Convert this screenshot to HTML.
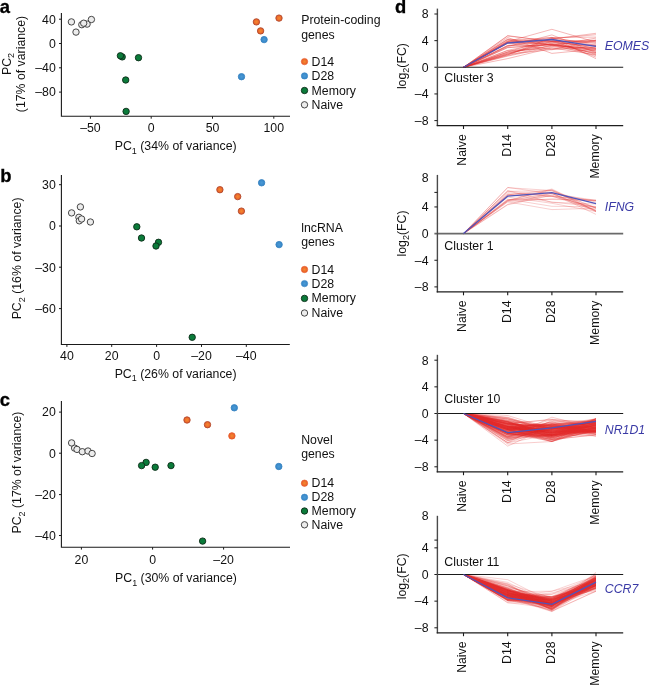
<!DOCTYPE html>
<html><head><meta charset="utf-8"><style>
html,body{margin:0;padding:0;background:#fff;}
body{width:649px;height:685px;overflow:hidden;}
svg{display:block;will-change:transform;}
text{font-family:"Liberation Sans", sans-serif;}
</style></head><body>
<svg width="649" height="685" viewBox="0 0 649 685" font-family='"Liberation Sans", sans-serif'><defs><radialGradient id="go"><stop offset="0" stop-color="#f38a30"/><stop offset="1" stop-color="#ea5c28"/></radialGradient><radialGradient id="gb"><stop offset="0" stop-color="#4b9ad5"/><stop offset="1" stop-color="#3586c8"/></radialGradient></defs>
<rect width="649" height="685" fill="#ffffff"/>
<path d="M61.4,13.1 V116.3 H290.0" fill="none" stroke="#1a1a1a" stroke-width="1.1"/>
<line x1="59.00" y1="19.20" x2="61.40" y2="19.20" stroke="#1a1a1a" stroke-width="1" />
<text x="55.80" y="23.50" font-size="12.3" text-anchor="end" fill="#111" >40</text>
<line x1="59.00" y1="43.50" x2="61.40" y2="43.50" stroke="#1a1a1a" stroke-width="1" />
<text x="55.80" y="47.80" font-size="12.3" text-anchor="end" fill="#111" >0</text>
<line x1="59.00" y1="67.80" x2="61.40" y2="67.80" stroke="#1a1a1a" stroke-width="1" />
<text x="55.80" y="72.10" font-size="12.3" text-anchor="end" fill="#111" >–40</text>
<line x1="59.00" y1="92.10" x2="61.40" y2="92.10" stroke="#1a1a1a" stroke-width="1" />
<text x="55.80" y="96.40" font-size="12.3" text-anchor="end" fill="#111" >–80</text>
<line x1="90.40" y1="116.30" x2="90.40" y2="118.70" stroke="#1a1a1a" stroke-width="1" />
<text x="90.40" y="132.40" font-size="12.3" text-anchor="middle" fill="#111" >–50</text>
<line x1="151.20" y1="116.30" x2="151.20" y2="118.70" stroke="#1a1a1a" stroke-width="1" />
<text x="151.20" y="132.40" font-size="12.3" text-anchor="middle" fill="#111" >0</text>
<line x1="212.50" y1="116.30" x2="212.50" y2="118.70" stroke="#1a1a1a" stroke-width="1" />
<text x="212.50" y="132.40" font-size="12.3" text-anchor="middle" fill="#111" >50</text>
<line x1="273.80" y1="116.30" x2="273.80" y2="118.70" stroke="#1a1a1a" stroke-width="1" />
<text x="273.80" y="132.40" font-size="12.3" text-anchor="middle" fill="#111" >100</text>
<text x="175.7" y="150.1" font-size="12.3" text-anchor="middle" fill="#111">PC<tspan font-size="9" dy="3.4">1</tspan><tspan dy="-3.4"> (34% of variance)</tspan></text>
<circle cx="71.40" cy="21.90" r="3.2" fill="#ececec" stroke="#333333" stroke-width="0.9"/>
<circle cx="76.00" cy="32.10" r="3.2" fill="#ececec" stroke="#333333" stroke-width="0.9"/>
<circle cx="81.80" cy="24.70" r="3.2" fill="#ececec" stroke="#333333" stroke-width="0.9"/>
<circle cx="87.10" cy="24.10" r="3.2" fill="#ececec" stroke="#333333" stroke-width="0.9"/>
<circle cx="83.70" cy="23.20" r="3.2" fill="#ececec" stroke="#333333" stroke-width="0.9"/>
<circle cx="91.40" cy="19.50" r="3.2" fill="#ececec" stroke="#333333" stroke-width="0.9"/>
<circle cx="122.20" cy="56.90" r="3.2" fill="#0b7b3a" stroke="#0d2b18" stroke-width="0.9"/>
<circle cx="120.40" cy="55.80" r="3.2" fill="#0b7b3a" stroke="#0d2b18" stroke-width="0.9"/>
<circle cx="138.50" cy="57.70" r="3.2" fill="#0b7b3a" stroke="#0d2b18" stroke-width="0.9"/>
<circle cx="125.70" cy="80.00" r="3.2" fill="#0b7b3a" stroke="#0d2b18" stroke-width="0.9"/>
<circle cx="126.10" cy="111.40" r="3.2" fill="#0b7b3a" stroke="#0d2b18" stroke-width="0.9"/>
<circle cx="256.40" cy="21.90" r="3.2" fill="url(#go)" stroke="#b04a2e" stroke-width="0.9"/>
<circle cx="279.00" cy="18.10" r="3.2" fill="url(#go)" stroke="#b04a2e" stroke-width="0.9"/>
<circle cx="260.60" cy="30.90" r="3.2" fill="url(#go)" stroke="#b04a2e" stroke-width="0.9"/>
<circle cx="264.10" cy="39.60" r="3.2" fill="url(#gb)" stroke="#3a84c2" stroke-width="0.9"/>
<circle cx="241.50" cy="76.70" r="3.2" fill="url(#gb)" stroke="#3a84c2" stroke-width="0.9"/>
<text x="301.20" y="24.00" font-size="12.3" text-anchor="start" fill="#111" >Protein-coding</text>
<text x="301.20" y="38.50" font-size="12.3" text-anchor="start" fill="#111" >genes</text>
<circle cx="304.50" cy="61.60" r="3.2" fill="url(#go)" stroke="#e65a2a" stroke-width="0.6"/>
<text x="311.60" y="65.60" font-size="12.3" text-anchor="start" fill="#111" >D14</text>
<circle cx="304.50" cy="75.90" r="3.2" fill="url(#gb)" stroke="#3a84c2" stroke-width="0.6"/>
<text x="311.60" y="79.90" font-size="12.3" text-anchor="start" fill="#111" >D28</text>
<circle cx="304.50" cy="90.50" r="3.2" fill="#0b7b3a" stroke="#0d2b18" stroke-width="0.9"/>
<text x="311.60" y="94.50" font-size="12.3" text-anchor="start" fill="#111" >Memory</text>
<circle cx="304.50" cy="104.80" r="3.2" fill="#ececec" stroke="#333333" stroke-width="0.9"/>
<text x="311.60" y="108.80" font-size="12.3" text-anchor="start" fill="#111" >Naive</text>
<path d="M61.4,174.9 V344.5 H289.8" fill="none" stroke="#1a1a1a" stroke-width="1.1"/>
<line x1="59.00" y1="184.70" x2="61.40" y2="184.70" stroke="#1a1a1a" stroke-width="1" />
<text x="55.80" y="189.00" font-size="12.3" text-anchor="end" fill="#111" >30</text>
<line x1="59.00" y1="226.00" x2="61.40" y2="226.00" stroke="#1a1a1a" stroke-width="1" />
<text x="55.80" y="230.30" font-size="12.3" text-anchor="end" fill="#111" >0</text>
<line x1="59.00" y1="267.20" x2="61.40" y2="267.20" stroke="#1a1a1a" stroke-width="1" />
<text x="55.80" y="271.50" font-size="12.3" text-anchor="end" fill="#111" >–30</text>
<line x1="59.00" y1="308.60" x2="61.40" y2="308.60" stroke="#1a1a1a" stroke-width="1" />
<text x="55.80" y="312.90" font-size="12.3" text-anchor="end" fill="#111" >–60</text>
<line x1="66.90" y1="344.50" x2="66.90" y2="346.90" stroke="#1a1a1a" stroke-width="1" />
<text x="66.90" y="359.90" font-size="12.3" text-anchor="middle" fill="#111" >40</text>
<line x1="111.70" y1="344.50" x2="111.70" y2="346.90" stroke="#1a1a1a" stroke-width="1" />
<text x="111.70" y="359.90" font-size="12.3" text-anchor="middle" fill="#111" >20</text>
<line x1="156.60" y1="344.50" x2="156.60" y2="346.90" stroke="#1a1a1a" stroke-width="1" />
<text x="156.60" y="359.90" font-size="12.3" text-anchor="middle" fill="#111" >0</text>
<line x1="201.50" y1="344.50" x2="201.50" y2="346.90" stroke="#1a1a1a" stroke-width="1" />
<text x="201.50" y="359.90" font-size="12.3" text-anchor="middle" fill="#111" >–20</text>
<line x1="246.30" y1="344.50" x2="246.30" y2="346.90" stroke="#1a1a1a" stroke-width="1" />
<text x="246.30" y="359.90" font-size="12.3" text-anchor="middle" fill="#111" >–40</text>
<text x="175.6" y="377.5" font-size="12.3" text-anchor="middle" fill="#111">PC<tspan font-size="9" dy="3.4">1</tspan><tspan dy="-3.4"> (26% of variance)</tspan></text>
<circle cx="71.60" cy="212.90" r="3.2" fill="#ececec" stroke="#333333" stroke-width="0.9"/>
<circle cx="80.40" cy="206.90" r="3.2" fill="#ececec" stroke="#333333" stroke-width="0.9"/>
<circle cx="78.90" cy="217.30" r="3.2" fill="#ececec" stroke="#333333" stroke-width="0.9"/>
<circle cx="79.30" cy="220.80" r="3.2" fill="#ececec" stroke="#333333" stroke-width="0.9"/>
<circle cx="81.60" cy="219.00" r="3.2" fill="#ececec" stroke="#333333" stroke-width="0.9"/>
<circle cx="90.40" cy="222.00" r="3.2" fill="#ececec" stroke="#333333" stroke-width="0.9"/>
<circle cx="136.80" cy="226.80" r="3.2" fill="#0b7b3a" stroke="#0d2b18" stroke-width="0.9"/>
<circle cx="141.50" cy="238.00" r="3.2" fill="#0b7b3a" stroke="#0d2b18" stroke-width="0.9"/>
<circle cx="158.50" cy="242.30" r="3.2" fill="#0b7b3a" stroke="#0d2b18" stroke-width="0.9"/>
<circle cx="156.00" cy="246.00" r="3.2" fill="#0b7b3a" stroke="#0d2b18" stroke-width="0.9"/>
<circle cx="192.20" cy="337.30" r="3.2" fill="#0b7b3a" stroke="#0d2b18" stroke-width="0.9"/>
<circle cx="219.90" cy="189.70" r="3.2" fill="url(#go)" stroke="#b04a2e" stroke-width="0.9"/>
<circle cx="237.70" cy="196.60" r="3.2" fill="url(#go)" stroke="#b04a2e" stroke-width="0.9"/>
<circle cx="241.40" cy="211.10" r="3.2" fill="url(#go)" stroke="#b04a2e" stroke-width="0.9"/>
<circle cx="261.60" cy="182.80" r="3.2" fill="url(#gb)" stroke="#3a84c2" stroke-width="0.9"/>
<circle cx="279.10" cy="244.60" r="3.2" fill="url(#gb)" stroke="#3a84c2" stroke-width="0.9"/>
<text x="301.20" y="231.80" font-size="12.3" text-anchor="start" fill="#111" >lncRNA</text>
<text x="301.20" y="246.30" font-size="12.3" text-anchor="start" fill="#111" >genes</text>
<circle cx="304.50" cy="269.50" r="3.2" fill="url(#go)" stroke="#e65a2a" stroke-width="0.6"/>
<text x="311.60" y="273.50" font-size="12.3" text-anchor="start" fill="#111" >D14</text>
<circle cx="304.50" cy="283.60" r="3.2" fill="url(#gb)" stroke="#3a84c2" stroke-width="0.6"/>
<text x="311.60" y="287.60" font-size="12.3" text-anchor="start" fill="#111" >D28</text>
<circle cx="304.50" cy="298.40" r="3.2" fill="#0b7b3a" stroke="#0d2b18" stroke-width="0.9"/>
<text x="311.60" y="302.40" font-size="12.3" text-anchor="start" fill="#111" >Memory</text>
<circle cx="304.50" cy="313.00" r="3.2" fill="#ececec" stroke="#333333" stroke-width="0.9"/>
<text x="311.60" y="317.00" font-size="12.3" text-anchor="start" fill="#111" >Naive</text>
<path d="M61.4,401.0 V547.2 H290.0" fill="none" stroke="#1a1a1a" stroke-width="1.1"/>
<line x1="59.00" y1="412.10" x2="61.40" y2="412.10" stroke="#1a1a1a" stroke-width="1" />
<text x="55.80" y="416.40" font-size="12.3" text-anchor="end" fill="#111" >20</text>
<line x1="59.00" y1="453.20" x2="61.40" y2="453.20" stroke="#1a1a1a" stroke-width="1" />
<text x="55.80" y="457.50" font-size="12.3" text-anchor="end" fill="#111" >0</text>
<line x1="59.00" y1="494.60" x2="61.40" y2="494.60" stroke="#1a1a1a" stroke-width="1" />
<text x="55.80" y="498.90" font-size="12.3" text-anchor="end" fill="#111" >–20</text>
<line x1="59.00" y1="535.50" x2="61.40" y2="535.50" stroke="#1a1a1a" stroke-width="1" />
<text x="55.80" y="539.80" font-size="12.3" text-anchor="end" fill="#111" >–40</text>
<line x1="81.40" y1="547.20" x2="81.40" y2="549.60" stroke="#1a1a1a" stroke-width="1" />
<text x="81.40" y="564.10" font-size="12.3" text-anchor="middle" fill="#111" >20</text>
<line x1="152.60" y1="547.20" x2="152.60" y2="549.60" stroke="#1a1a1a" stroke-width="1" />
<text x="152.60" y="564.10" font-size="12.3" text-anchor="middle" fill="#111" >0</text>
<line x1="223.60" y1="547.20" x2="223.60" y2="549.60" stroke="#1a1a1a" stroke-width="1" />
<text x="223.60" y="564.10" font-size="12.3" text-anchor="middle" fill="#111" >–20</text>
<text x="176.0" y="582.1" font-size="12.3" text-anchor="middle" fill="#111">PC<tspan font-size="9" dy="3.4">1</tspan><tspan dy="-3.4"> (30% of variance)</tspan></text>
<circle cx="74.60" cy="448.10" r="3.2" fill="#ececec" stroke="#333333" stroke-width="0.9"/>
<circle cx="77.00" cy="449.40" r="3.2" fill="#ececec" stroke="#333333" stroke-width="0.9"/>
<circle cx="71.60" cy="442.90" r="3.2" fill="#ececec" stroke="#333333" stroke-width="0.9"/>
<circle cx="82.30" cy="451.70" r="3.2" fill="#ececec" stroke="#333333" stroke-width="0.9"/>
<circle cx="88.00" cy="451.00" r="3.2" fill="#ececec" stroke="#333333" stroke-width="0.9"/>
<circle cx="92.10" cy="453.50" r="3.2" fill="#ececec" stroke="#333333" stroke-width="0.9"/>
<circle cx="146.10" cy="462.40" r="3.2" fill="#0b7b3a" stroke="#0d2b18" stroke-width="0.9"/>
<circle cx="141.60" cy="465.60" r="3.2" fill="#0b7b3a" stroke="#0d2b18" stroke-width="0.9"/>
<circle cx="155.20" cy="467.20" r="3.2" fill="#0b7b3a" stroke="#0d2b18" stroke-width="0.9"/>
<circle cx="171.00" cy="465.60" r="3.2" fill="#0b7b3a" stroke="#0d2b18" stroke-width="0.9"/>
<circle cx="202.60" cy="541.10" r="3.2" fill="#0b7b3a" stroke="#0d2b18" stroke-width="0.9"/>
<circle cx="187.00" cy="420.00" r="3.2" fill="url(#go)" stroke="#b04a2e" stroke-width="0.9"/>
<circle cx="207.50" cy="424.70" r="3.2" fill="url(#go)" stroke="#b04a2e" stroke-width="0.9"/>
<circle cx="231.90" cy="435.90" r="3.2" fill="url(#go)" stroke="#e65a2a" stroke-width="0.9"/>
<circle cx="234.30" cy="407.80" r="3.2" fill="url(#gb)" stroke="#3a84c2" stroke-width="0.9"/>
<circle cx="278.80" cy="466.50" r="3.2" fill="url(#gb)" stroke="#3a84c2" stroke-width="0.9"/>
<text x="301.20" y="443.70" font-size="12.3" text-anchor="start" fill="#111" >Novel</text>
<text x="301.20" y="458.20" font-size="12.3" text-anchor="start" fill="#111" >genes</text>
<circle cx="304.50" cy="483.20" r="3.2" fill="url(#go)" stroke="#e65a2a" stroke-width="0.6"/>
<text x="311.60" y="487.20" font-size="12.3" text-anchor="start" fill="#111" >D14</text>
<circle cx="304.50" cy="497.30" r="3.2" fill="url(#gb)" stroke="#3a84c2" stroke-width="0.6"/>
<text x="311.60" y="501.30" font-size="12.3" text-anchor="start" fill="#111" >D28</text>
<circle cx="304.50" cy="511.00" r="3.2" fill="#0b7b3a" stroke="#0d2b18" stroke-width="0.9"/>
<text x="311.60" y="515.00" font-size="12.3" text-anchor="start" fill="#111" >Memory</text>
<circle cx="304.50" cy="524.80" r="3.2" fill="#ececec" stroke="#333333" stroke-width="0.9"/>
<text x="311.60" y="528.80" font-size="12.3" text-anchor="start" fill="#111" >Naive</text>
<text transform="translate(11.0,64.0) rotate(-90)" font-size="12.3" text-anchor="middle" fill="#111">PC<tspan font-size="9" dy="3.4">2</tspan></text>
<text transform="translate(24.6,64.0) rotate(-90)" font-size="12.3" text-anchor="middle" fill="#111">(17% of variance)</text>
<text transform="translate(21.4,258.4) rotate(-90)" font-size="12.3" text-anchor="middle" fill="#111">PC<tspan font-size="9" dy="3.4">2</tspan><tspan dy="-3.4"> (16% of variance)</tspan></text>
<text transform="translate(21.4,472.6) rotate(-90)" font-size="12.3" text-anchor="middle" fill="#111">PC<tspan font-size="9" dy="3.4">2</tspan><tspan dy="-3.4"> (17% of variance)</tspan></text>
<g fill="none" stroke="#e02a2a" stroke-width="0.8" stroke-opacity="0.42"><polyline points="463.5,67.3 507.7,40.8 551.9,37.4 596.0,45.3"/><polyline points="463.5,67.3 507.7,53.4 551.9,43.4 596.0,53.7"/><polyline points="463.5,67.3 507.7,42.5 551.9,49.7 596.0,40.2"/><polyline points="463.5,67.3 507.7,41.6 551.9,29.3 596.0,42.1"/><polyline points="463.5,67.3 507.7,39.8 551.9,44.4 596.0,50.8"/><polyline points="463.5,67.3 507.7,35.6 551.9,41.6 596.0,42.6"/><polyline points="463.5,67.3 507.7,42.7 551.9,37.5 596.0,58.7"/><polyline points="463.5,67.3 507.7,55.0 551.9,39.0 596.0,33.3"/><polyline points="463.5,67.3 507.7,56.1 551.9,47.0 596.0,45.0"/><polyline points="463.5,67.3 507.7,47.7 551.9,44.5 596.0,49.4"/><polyline points="463.5,67.3 507.7,39.0 551.9,42.4 596.0,45.4"/><polyline points="463.5,67.3 507.7,51.9 551.9,38.6 596.0,34.7"/><polyline points="463.5,67.3 507.7,41.1 551.9,44.9 596.0,55.6"/><polyline points="463.5,67.3 507.7,42.1 551.9,40.1 596.0,48.6"/><polyline points="463.5,67.3 507.7,58.6 551.9,47.9 596.0,54.8"/><polyline points="463.5,67.3 507.7,50.3 551.9,41.5 596.0,54.5"/><polyline points="463.5,67.3 507.7,46.5 551.9,34.9 596.0,52.7"/><polyline points="463.5,67.3 507.7,45.6 551.9,39.2 596.0,51.7"/><polyline points="463.5,67.3 507.7,54.2 551.9,41.6 596.0,41.2"/><polyline points="463.5,67.3 507.7,55.6 551.9,45.3 596.0,50.8"/><polyline points="463.5,67.3 507.7,37.5 551.9,53.4 596.0,49.1"/><polyline points="463.5,67.3 507.7,54.1 551.9,49.6 596.0,47.3"/><polyline points="463.5,67.3 507.7,47.4 551.9,44.3 596.0,52.6"/><polyline points="463.5,67.3 507.7,54.7 551.9,37.5 596.0,37.1"/><polyline points="463.5,67.3 507.7,45.4 551.9,45.6 596.0,38.1"/><polyline points="463.5,67.3 507.7,42.3 551.9,41.7 596.0,41.0"/><polyline points="463.5,67.3 507.7,50.6 551.9,48.6 596.0,46.7"/><polyline points="463.5,67.3 507.7,52.0 551.9,43.1 596.0,45.7"/><polyline points="463.5,67.3 507.7,41.9 551.9,40.1 596.0,57.1"/><polyline points="463.5,67.3 507.7,46.1 551.9,41.1 596.0,40.2"/><polyline points="463.5,67.3 507.7,39.4 551.9,45.0 596.0,48.8"/><polyline points="463.5,67.3 507.7,52.3 551.9,46.3 596.0,53.0"/><polyline points="463.5,67.3 507.7,53.1 551.9,45.3 596.0,40.3"/><polyline points="463.5,67.3 507.7,36.0 551.9,41.3 596.0,48.1"/><polyline points="463.5,67.3 507.7,43.3 551.9,38.4 596.0,43.6"/><polyline points="463.5,67.3 507.7,42.9 551.9,44.6 596.0,49.3"/></g>
<line x1="434.40" y1="67.30" x2="623.20" y2="67.30" stroke="#1a1a1a" stroke-width="1.1" />
<text x="428.50" y="71.60" font-size="12.3" text-anchor="end" fill="#111" >0</text>
<polyline points="463.5,67.3 507.7,43.0 551.9,39.5 596.0,46.4" fill="none" stroke="#4f55bb" stroke-width="1.3"/>
<line x1="437.40" y1="8.60" x2="437.40" y2="126.10" stroke="#4a4a4a" stroke-width="1.4" />
<line x1="436.70" y1="125.60" x2="623.20" y2="125.60" stroke="#1e1e1e" stroke-width="1.15" />
<line x1="434.40" y1="40.65" x2="437.40" y2="40.65" stroke="#1a1a1a" stroke-width="1" />
<text x="428.50" y="44.95" font-size="12.3" text-anchor="end" fill="#111" >4</text>
<line x1="434.40" y1="93.95" x2="437.40" y2="93.95" stroke="#1a1a1a" stroke-width="1" />
<text x="428.50" y="98.25" font-size="12.3" text-anchor="end" fill="#111" >–4</text>
<line x1="434.40" y1="120.60" x2="437.40" y2="120.60" stroke="#1a1a1a" stroke-width="1" />
<text x="428.50" y="124.90" font-size="12.3" text-anchor="end" fill="#111" >–8</text>
<line x1="434.40" y1="14.00" x2="437.40" y2="14.00" stroke="#1a1a1a" stroke-width="1" />
<text x="428.50" y="18.30" font-size="12.3" text-anchor="end" fill="#111" >8</text>
<line x1="463.50" y1="125.60" x2="463.50" y2="129.00" stroke="#1a1a1a" stroke-width="1.1" />
<text transform="translate(466.40,134.20) rotate(-90)" font-size="12.3" text-anchor="end" fill="#111">Naive</text>
<line x1="507.70" y1="125.60" x2="507.70" y2="129.00" stroke="#1a1a1a" stroke-width="1.1" />
<text transform="translate(510.60,134.20) rotate(-90)" font-size="12.3" text-anchor="end" fill="#111">D14</text>
<line x1="551.90" y1="125.60" x2="551.90" y2="129.00" stroke="#1a1a1a" stroke-width="1.1" />
<text transform="translate(554.80,134.20) rotate(-90)" font-size="12.3" text-anchor="end" fill="#111">D28</text>
<line x1="596.00" y1="125.60" x2="596.00" y2="129.00" stroke="#1a1a1a" stroke-width="1.1" />
<text transform="translate(598.90,134.20) rotate(-90)" font-size="12.3" text-anchor="end" fill="#111">Memory</text>
<text x="444.30" y="82.40" font-size="12.3" text-anchor="start" fill="#111" >Cluster 3</text>
<text x="604.80" y="50.40" font-size="12.3" text-anchor="start" fill="#3a3aa6" font-style="italic">EOMES</text>
<text transform="translate(405.5,66.10) rotate(-90)" font-size="12.3" text-anchor="middle" fill="#111">log<tspan font-size="9" dy="3.4">2</tspan><tspan dy="-3.4">(FC)</tspan></text>
<g fill="none" stroke="#e02a2a" stroke-width="0.8" stroke-opacity="0.28"><polyline points="463.5,233.6 507.7,199.7 551.9,199.5 596.0,200.3"/><polyline points="463.5,233.6 507.7,199.2 551.9,206.3 596.0,206.8"/><polyline points="463.5,233.6 507.7,195.4 551.9,193.5 596.0,210.1"/><polyline points="463.5,233.6 507.7,187.4 551.9,193.9 596.0,200.3"/><polyline points="463.5,233.6 507.7,192.7 551.9,195.9 596.0,201.0"/><polyline points="463.5,233.6 507.7,190.8 551.9,202.2 596.0,204.1"/><polyline points="463.5,233.6 507.7,200.2 551.9,190.0 596.0,211.1"/><polyline points="463.5,233.6 507.7,194.0 551.9,202.2 596.0,206.5"/><polyline points="463.5,233.6 507.7,187.7 551.9,190.5 596.0,211.4"/><polyline points="463.5,233.6 507.7,204.3 551.9,193.2 596.0,211.7"/><polyline points="463.5,233.6 507.7,200.9 551.9,193.3 596.0,214.4"/><polyline points="463.5,233.6 507.7,191.3 551.9,190.9 596.0,208.1"/><polyline points="463.5,233.6 507.7,201.7 551.9,198.8 596.0,200.6"/><polyline points="463.5,233.6 507.7,195.0 551.9,189.9 596.0,207.9"/><polyline points="463.5,233.6 507.7,195.4 551.9,196.3 596.0,207.5"/><polyline points="463.5,233.6 507.7,194.3 551.9,192.3 596.0,202.1"/><polyline points="463.5,233.6 507.7,197.1 551.9,203.3 596.0,211.5"/><polyline points="463.5,233.6 507.7,201.9 551.9,209.6 596.0,208.2"/><polyline points="463.5,233.6 507.7,200.8 551.9,189.0 596.0,211.0"/><polyline points="463.5,233.6 507.7,204.8 551.9,195.1 596.0,208.2"/><polyline points="463.5,233.6 507.7,190.9 551.9,196.5 596.0,200.3"/><polyline points="463.5,233.6 507.7,200.4 551.9,196.0 596.0,210.4"/></g>
<line x1="434.40" y1="233.60" x2="623.20" y2="233.60" stroke="#6a6a6a" stroke-width="1.7" />
<text x="428.50" y="237.90" font-size="12.3" text-anchor="end" fill="#111" >0</text>
<polyline points="463.5,233.6 507.7,196.2 551.9,192.7 596.0,203.6" fill="none" stroke="#4f55bb" stroke-width="1.3"/>
<line x1="437.40" y1="174.90" x2="437.40" y2="292.40" stroke="#4a4a4a" stroke-width="1.4" />
<line x1="436.70" y1="291.90" x2="623.20" y2="291.90" stroke="#1e1e1e" stroke-width="1.15" />
<line x1="434.40" y1="206.95" x2="437.40" y2="206.95" stroke="#1a1a1a" stroke-width="1" />
<text x="428.50" y="211.25" font-size="12.3" text-anchor="end" fill="#111" >4</text>
<line x1="434.40" y1="260.25" x2="437.40" y2="260.25" stroke="#1a1a1a" stroke-width="1" />
<text x="428.50" y="264.55" font-size="12.3" text-anchor="end" fill="#111" >–4</text>
<line x1="434.40" y1="286.90" x2="437.40" y2="286.90" stroke="#1a1a1a" stroke-width="1" />
<text x="428.50" y="291.20" font-size="12.3" text-anchor="end" fill="#111" >–8</text>
<line x1="434.40" y1="192.40" x2="437.40" y2="192.40" stroke="#1a1a1a" stroke-width="1" />
<text x="428.50" y="182.30" font-size="12.3" text-anchor="end" fill="#111" >8</text>
<line x1="463.50" y1="291.90" x2="463.50" y2="295.30" stroke="#1a1a1a" stroke-width="1.1" />
<text transform="translate(466.40,300.50) rotate(-90)" font-size="12.3" text-anchor="end" fill="#111">Naive</text>
<line x1="507.70" y1="291.90" x2="507.70" y2="295.30" stroke="#1a1a1a" stroke-width="1.1" />
<text transform="translate(510.60,300.50) rotate(-90)" font-size="12.3" text-anchor="end" fill="#111">D14</text>
<line x1="551.90" y1="291.90" x2="551.90" y2="295.30" stroke="#1a1a1a" stroke-width="1.1" />
<text transform="translate(554.80,300.50) rotate(-90)" font-size="12.3" text-anchor="end" fill="#111">D28</text>
<line x1="596.00" y1="291.90" x2="596.00" y2="295.30" stroke="#1a1a1a" stroke-width="1.1" />
<text transform="translate(598.90,300.50) rotate(-90)" font-size="12.3" text-anchor="end" fill="#111">Memory</text>
<text x="444.30" y="250.40" font-size="12.3" text-anchor="start" fill="#111" >Cluster 1</text>
<text x="604.80" y="211.00" font-size="12.3" text-anchor="start" fill="#3a3aa6" font-style="italic">IFNG</text>
<text transform="translate(405.5,233.50) rotate(-90)" font-size="12.3" text-anchor="middle" fill="#111">log<tspan font-size="9" dy="3.4">2</tspan><tspan dy="-3.4">(FC)</tspan></text>
<g fill="none" stroke="#e02a2a" stroke-width="0.8" stroke-opacity="0.3"><polyline points="463.5,413.5 507.7,424.5 551.9,424.9 596.0,423.5"/><polyline points="463.5,413.5 507.7,421.3 551.9,434.3 596.0,429.5"/><polyline points="463.5,413.5 507.7,434.6 551.9,434.8 596.0,421.7"/><polyline points="463.5,413.5 507.7,427.3 551.9,434.9 596.0,430.4"/><polyline points="463.5,413.5 507.7,422.4 551.9,436.1 596.0,429.1"/><polyline points="463.5,413.5 507.7,426.3 551.9,424.2 596.0,421.1"/><polyline points="463.5,413.5 507.7,432.0 551.9,436.9 596.0,431.6"/><polyline points="463.5,413.5 507.7,426.8 551.9,429.4 596.0,421.6"/><polyline points="463.5,413.5 507.7,424.3 551.9,425.0 596.0,431.2"/><polyline points="463.5,413.5 507.7,435.3 551.9,430.4 596.0,424.9"/><polyline points="463.5,413.5 507.7,433.5 551.9,423.9 596.0,434.0"/><polyline points="463.5,413.5 507.7,429.7 551.9,435.1 596.0,425.0"/><polyline points="463.5,413.5 507.7,426.3 551.9,432.1 596.0,425.3"/><polyline points="463.5,413.5 507.7,421.9 551.9,434.1 596.0,430.2"/><polyline points="463.5,413.5 507.7,434.9 551.9,432.4 596.0,431.3"/><polyline points="463.5,413.5 507.7,439.5 551.9,427.2 596.0,432.3"/><polyline points="463.5,413.5 507.7,442.7 551.9,428.2 596.0,432.6"/><polyline points="463.5,413.5 507.7,426.6 551.9,425.4 596.0,431.7"/><polyline points="463.5,413.5 507.7,436.4 551.9,425.3 596.0,434.6"/><polyline points="463.5,413.5 507.7,436.6 551.9,434.9 596.0,430.6"/><polyline points="463.5,413.5 507.7,422.3 551.9,431.5 596.0,435.0"/><polyline points="463.5,413.5 507.7,421.2 551.9,427.6 596.0,427.7"/><polyline points="463.5,413.5 507.7,419.1 551.9,426.1 596.0,423.7"/><polyline points="463.5,413.5 507.7,432.9 551.9,430.7 596.0,420.3"/><polyline points="463.5,413.5 507.7,425.5 551.9,431.8 596.0,432.9"/><polyline points="463.5,413.5 507.7,426.5 551.9,429.5 596.0,422.4"/><polyline points="463.5,413.5 507.7,425.1 551.9,426.0 596.0,426.6"/><polyline points="463.5,413.5 507.7,426.9 551.9,432.7 596.0,425.2"/><polyline points="463.5,413.5 507.7,426.8 551.9,428.5 596.0,430.1"/><polyline points="463.5,413.5 507.7,426.7 551.9,431.2 596.0,431.3"/><polyline points="463.5,413.5 507.7,429.0 551.9,427.3 596.0,428.9"/><polyline points="463.5,413.5 507.7,420.2 551.9,428.8 596.0,422.2"/><polyline points="463.5,413.5 507.7,425.4 551.9,439.3 596.0,434.9"/><polyline points="463.5,413.5 507.7,426.6 551.9,432.7 596.0,429.2"/><polyline points="463.5,413.5 507.7,426.3 551.9,428.8 596.0,425.8"/><polyline points="463.5,413.5 507.7,434.6 551.9,423.7 596.0,436.5"/><polyline points="463.5,413.5 507.7,423.6 551.9,433.2 596.0,423.3"/><polyline points="463.5,413.5 507.7,428.9 551.9,429.1 596.0,420.7"/><polyline points="463.5,413.5 507.7,433.0 551.9,441.3 596.0,429.9"/><polyline points="463.5,413.5 507.7,442.9 551.9,434.2 596.0,430.6"/><polyline points="463.5,413.5 507.7,426.8 551.9,433.9 596.0,425.6"/><polyline points="463.5,413.5 507.7,438.1 551.9,429.3 596.0,428.0"/><polyline points="463.5,413.5 507.7,423.9 551.9,419.2 596.0,423.8"/><polyline points="463.5,413.5 507.7,424.3 551.9,435.1 596.0,429.8"/><polyline points="463.5,413.5 507.7,418.9 551.9,439.1 596.0,428.1"/><polyline points="463.5,413.5 507.7,426.6 551.9,425.8 596.0,429.3"/><polyline points="463.5,413.5 507.7,429.1 551.9,427.8 596.0,421.1"/><polyline points="463.5,413.5 507.7,428.7 551.9,431.7 596.0,421.4"/><polyline points="463.5,413.5 507.7,423.4 551.9,433.1 596.0,425.3"/><polyline points="463.5,413.5 507.7,429.8 551.9,430.1 596.0,434.1"/><polyline points="463.5,413.5 507.7,427.8 551.9,430.8 596.0,432.3"/><polyline points="463.5,413.5 507.7,429.5 551.9,435.1 596.0,429.7"/><polyline points="463.5,413.5 507.7,430.9 551.9,419.8 596.0,422.0"/><polyline points="463.5,413.5 507.7,435.3 551.9,424.4 596.0,428.2"/><polyline points="463.5,413.5 507.7,421.5 551.9,426.8 596.0,421.1"/><polyline points="463.5,413.5 507.7,423.4 551.9,432.5 596.0,429.2"/><polyline points="463.5,413.5 507.7,427.9 551.9,429.0 596.0,421.5"/><polyline points="463.5,413.5 507.7,415.5 551.9,429.1 596.0,418.8"/><polyline points="463.5,413.5 507.7,425.7 551.9,427.1 596.0,430.8"/><polyline points="463.5,413.5 507.7,428.2 551.9,426.9 596.0,427.5"/><polyline points="463.5,413.5 507.7,433.0 551.9,430.1 596.0,421.7"/><polyline points="463.5,413.5 507.7,423.7 551.9,433.6 596.0,422.6"/><polyline points="463.5,413.5 507.7,430.0 551.9,432.5 596.0,420.6"/><polyline points="463.5,413.5 507.7,426.3 551.9,429.5 596.0,426.9"/><polyline points="463.5,413.5 507.7,446.1 551.9,425.7 596.0,420.3"/><polyline points="463.5,413.5 507.7,444.0 551.9,441.5 596.0,428.9"/><polyline points="463.5,413.5 507.7,423.1 551.9,428.5 596.0,424.3"/><polyline points="463.5,413.5 507.7,433.8 551.9,435.6 596.0,425.1"/><polyline points="463.5,413.5 507.7,436.7 551.9,424.2 596.0,423.7"/><polyline points="463.5,413.5 507.7,429.9 551.9,434.5 596.0,419.8"/><polyline points="463.5,413.5 507.7,429.6 551.9,439.7 596.0,430.8"/><polyline points="463.5,413.5 507.7,440.6 551.9,426.5 596.0,431.9"/><polyline points="463.5,413.5 507.7,429.7 551.9,428.4 596.0,421.4"/><polyline points="463.5,413.5 507.7,437.8 551.9,427.4 596.0,429.0"/><polyline points="463.5,413.5 507.7,430.1 551.9,441.5 596.0,426.6"/><polyline points="463.5,413.5 507.7,428.0 551.9,428.9 596.0,424.1"/><polyline points="463.5,413.5 507.7,433.6 551.9,438.9 596.0,424.1"/><polyline points="463.5,413.5 507.7,437.0 551.9,417.2 596.0,428.4"/><polyline points="463.5,413.5 507.7,441.0 551.9,426.3 596.0,427.5"/><polyline points="463.5,413.5 507.7,433.3 551.9,433.1 596.0,428.2"/><polyline points="463.5,413.5 507.7,437.5 551.9,425.1 596.0,421.5"/><polyline points="463.5,413.5 507.7,428.7 551.9,434.2 596.0,425.4"/><polyline points="463.5,413.5 507.7,422.8 551.9,428.1 596.0,427.8"/><polyline points="463.5,413.5 507.7,426.9 551.9,436.6 596.0,423.0"/><polyline points="463.5,413.5 507.7,420.4 551.9,426.3 596.0,422.6"/><polyline points="463.5,413.5 507.7,426.0 551.9,437.1 596.0,420.5"/><polyline points="463.5,413.5 507.7,421.9 551.9,435.6 596.0,427.9"/><polyline points="463.5,413.5 507.7,424.3 551.9,427.8 596.0,431.4"/><polyline points="463.5,413.5 507.7,435.2 551.9,436.5 596.0,425.3"/><polyline points="463.5,413.5 507.7,423.9 551.9,426.2 596.0,427.9"/><polyline points="463.5,413.5 507.7,427.3 551.9,432.9 596.0,421.7"/><polyline points="463.5,413.5 507.7,428.6 551.9,431.9 596.0,421.1"/><polyline points="463.5,413.5 507.7,429.0 551.9,431.9 596.0,431.0"/><polyline points="463.5,413.5 507.7,429.1 551.9,422.5 596.0,431.5"/><polyline points="463.5,413.5 507.7,422.2 551.9,435.9 596.0,430.3"/><polyline points="463.5,413.5 507.7,422.7 551.9,435.1 596.0,428.0"/><polyline points="463.5,413.5 507.7,431.2 551.9,423.5 596.0,424.3"/><polyline points="463.5,413.5 507.7,431.7 551.9,432.3 596.0,424.8"/><polyline points="463.5,413.5 507.7,432.9 551.9,426.8 596.0,421.6"/><polyline points="463.5,413.5 507.7,424.6 551.9,435.5 596.0,420.3"/><polyline points="463.5,413.5 507.7,428.7 551.9,422.4 596.0,424.2"/><polyline points="463.5,413.5 507.7,429.6 551.9,439.6 596.0,418.8"/><polyline points="463.5,413.5 507.7,433.3 551.9,427.9 596.0,422.2"/><polyline points="463.5,413.5 507.7,420.4 551.9,435.2 596.0,418.9"/><polyline points="463.5,413.5 507.7,432.5 551.9,431.6 596.0,418.8"/><polyline points="463.5,413.5 507.7,429.7 551.9,430.5 596.0,432.7"/><polyline points="463.5,413.5 507.7,428.8 551.9,441.5 596.0,425.8"/><polyline points="463.5,413.5 507.7,425.2 551.9,430.1 596.0,431.3"/><polyline points="463.5,413.5 507.7,418.5 551.9,431.4 596.0,429.4"/><polyline points="463.5,413.5 507.7,429.6 551.9,435.7 596.0,430.6"/><polyline points="463.5,413.5 507.7,437.8 551.9,434.7 596.0,435.9"/><polyline points="463.5,413.5 507.7,427.5 551.9,432.9 596.0,428.3"/><polyline points="463.5,413.5 507.7,427.7 551.9,433.2 596.0,418.8"/><polyline points="463.5,413.5 507.7,436.4 551.9,429.4 596.0,424.1"/><polyline points="463.5,413.5 507.7,431.0 551.9,435.8 596.0,431.9"/><polyline points="463.5,413.5 507.7,422.5 551.9,431.8 596.0,424.9"/><polyline points="463.5,413.5 507.7,440.2 551.9,433.7 596.0,424.8"/><polyline points="463.5,413.5 507.7,429.8 551.9,430.6 596.0,430.7"/><polyline points="463.5,413.5 507.7,423.6 551.9,431.4 596.0,423.7"/><polyline points="463.5,413.5 507.7,426.1 551.9,433.6 596.0,427.1"/><polyline points="463.5,413.5 507.7,428.5 551.9,434.9 596.0,427.0"/><polyline points="463.5,413.5 507.7,433.3 551.9,437.8 596.0,426.5"/><polyline points="463.5,413.5 507.7,427.9 551.9,426.5 596.0,424.5"/><polyline points="463.5,413.5 507.7,434.0 551.9,434.5 596.0,421.9"/><polyline points="463.5,413.5 507.7,433.2 551.9,439.8 596.0,434.6"/><polyline points="463.5,413.5 507.7,433.6 551.9,421.6 596.0,433.0"/><polyline points="463.5,413.5 507.7,421.5 551.9,434.2 596.0,428.3"/><polyline points="463.5,413.5 507.7,434.5 551.9,421.6 596.0,420.8"/><polyline points="463.5,413.5 507.7,433.6 551.9,428.2 596.0,433.8"/><polyline points="463.5,413.5 507.7,432.0 551.9,429.3 596.0,428.7"/><polyline points="463.5,413.5 507.7,426.3 551.9,441.5 596.0,418.8"/><polyline points="463.5,413.5 507.7,431.0 551.9,439.9 596.0,430.8"/><polyline points="463.5,413.5 507.7,438.4 551.9,435.7 596.0,422.6"/><polyline points="463.5,413.5 507.7,429.5 551.9,424.6 596.0,421.8"/><polyline points="463.5,413.5 507.7,417.8 551.9,434.6 596.0,431.4"/><polyline points="463.5,413.5 507.7,427.7 551.9,423.6 596.0,420.9"/><polyline points="463.5,413.5 507.7,429.6 551.9,428.0 596.0,418.8"/><polyline points="463.5,413.5 507.7,421.4 551.9,438.1 596.0,422.9"/><polyline points="463.5,413.5 507.7,423.3 551.9,428.0 596.0,427.0"/><polyline points="463.5,413.5 507.7,438.9 551.9,428.4 596.0,422.2"/><polyline points="463.5,413.5 507.7,424.3 551.9,440.7 596.0,422.0"/><polyline points="463.5,413.5 507.7,425.0 551.9,425.1 596.0,430.7"/><polyline points="463.5,413.5 507.7,428.1 551.9,434.6 596.0,427.6"/><polyline points="463.5,413.5 507.7,429.1 551.9,428.6 596.0,432.1"/><polyline points="463.5,413.5 507.7,423.5 551.9,419.7 596.0,426.6"/><polyline points="463.5,413.5 507.7,427.7 551.9,430.8 596.0,428.6"/><polyline points="463.5,413.5 507.7,430.8 551.9,432.8 596.0,419.8"/><polyline points="463.5,413.5 507.7,427.8 551.9,436.0 596.0,431.0"/><polyline points="463.5,413.5 507.7,431.5 551.9,438.2 596.0,424.8"/><polyline points="463.5,413.5 507.7,423.8 551.9,438.9 596.0,431.6"/><polyline points="463.5,413.5 507.7,433.1 551.9,435.1 596.0,423.3"/><polyline points="463.5,413.5 507.7,439.1 551.9,430.5 596.0,424.1"/><polyline points="463.5,413.5 507.7,417.7 551.9,430.1 596.0,425.5"/><polyline points="463.5,413.5 507.7,421.9 551.9,437.7 596.0,427.8"/><polyline points="463.5,413.5 507.7,421.5 551.9,433.3 596.0,424.7"/><polyline points="463.5,413.5 507.7,423.9 551.9,428.5 596.0,422.9"/><polyline points="463.5,413.5 507.7,429.7 551.9,437.7 596.0,432.8"/><polyline points="463.5,413.5 507.7,437.3 551.9,426.7 596.0,426.9"/><polyline points="463.5,413.5 507.7,431.6 551.9,437.4 596.0,418.8"/><polyline points="463.5,413.5 507.7,426.2 551.9,436.5 596.0,423.0"/><polyline points="463.5,413.5 507.7,428.4 551.9,425.3 596.0,418.8"/><polyline points="463.5,413.5 507.7,419.1 551.9,428.6 596.0,426.4"/><polyline points="463.5,413.5 507.7,430.2 551.9,437.0 596.0,431.4"/><polyline points="463.5,413.5 507.7,417.1 551.9,432.2 596.0,431.3"/><polyline points="463.5,413.5 507.7,432.3 551.9,441.5 596.0,424.0"/><polyline points="463.5,413.5 507.7,433.0 551.9,430.0 596.0,429.8"/><polyline points="463.5,413.5 507.7,442.6 551.9,420.2 596.0,427.2"/><polyline points="463.5,413.5 507.7,434.9 551.9,435.6 596.0,428.1"/><polyline points="463.5,413.5 507.7,431.0 551.9,436.3 596.0,431.1"/><polyline points="463.5,413.5 507.7,427.4 551.9,423.9 596.0,432.2"/></g>
<line x1="434.40" y1="413.50" x2="623.20" y2="413.50" stroke="#1a1a1a" stroke-width="1.1" />
<text x="428.50" y="417.80" font-size="12.3" text-anchor="end" fill="#111" >0</text>
<polyline points="463.5,413.5 507.7,432.6 551.9,427.8 596.0,421.3" fill="none" stroke="#4f55bb" stroke-width="1.3"/>
<line x1="437.40" y1="354.80" x2="437.40" y2="472.30" stroke="#4a4a4a" stroke-width="1.4" />
<line x1="436.70" y1="471.80" x2="623.20" y2="471.80" stroke="#1e1e1e" stroke-width="1.15" />
<line x1="434.40" y1="386.85" x2="437.40" y2="386.85" stroke="#1a1a1a" stroke-width="1" />
<text x="428.50" y="391.15" font-size="12.3" text-anchor="end" fill="#111" >4</text>
<line x1="434.40" y1="440.15" x2="437.40" y2="440.15" stroke="#1a1a1a" stroke-width="1" />
<text x="428.50" y="444.45" font-size="12.3" text-anchor="end" fill="#111" >–4</text>
<line x1="434.40" y1="466.80" x2="437.40" y2="466.80" stroke="#1a1a1a" stroke-width="1" />
<text x="428.50" y="471.10" font-size="12.3" text-anchor="end" fill="#111" >–8</text>
<line x1="434.40" y1="360.20" x2="437.40" y2="360.20" stroke="#1a1a1a" stroke-width="1" />
<text x="428.50" y="364.50" font-size="12.3" text-anchor="end" fill="#111" >8</text>
<line x1="463.50" y1="471.80" x2="463.50" y2="475.20" stroke="#1a1a1a" stroke-width="1.1" />
<text transform="translate(466.40,480.40) rotate(-90)" font-size="12.3" text-anchor="end" fill="#111">Naive</text>
<line x1="507.70" y1="471.80" x2="507.70" y2="475.20" stroke="#1a1a1a" stroke-width="1.1" />
<text transform="translate(510.60,480.40) rotate(-90)" font-size="12.3" text-anchor="end" fill="#111">D14</text>
<line x1="551.90" y1="471.80" x2="551.90" y2="475.20" stroke="#1a1a1a" stroke-width="1.1" />
<text transform="translate(554.80,480.40) rotate(-90)" font-size="12.3" text-anchor="end" fill="#111">D28</text>
<line x1="596.00" y1="471.80" x2="596.00" y2="475.20" stroke="#1a1a1a" stroke-width="1.1" />
<text transform="translate(598.90,480.40) rotate(-90)" font-size="12.3" text-anchor="end" fill="#111">Memory</text>
<text x="444.30" y="403.40" font-size="12.3" text-anchor="start" fill="#111" >Cluster 10</text>
<text x="604.80" y="433.50" font-size="12.3" text-anchor="start" fill="#3a3aa6" font-style="italic">NR1D1</text>
<g fill="none" stroke="#e02a2a" stroke-width="0.8" stroke-opacity="0.26"><polyline points="463.5,574.5 507.7,589.8 551.9,603.8 596.0,583.4"/><polyline points="463.5,574.5 507.7,600.5 551.9,602.8 596.0,580.6"/><polyline points="463.5,574.5 507.7,595.8 551.9,604.5 596.0,588.4"/><polyline points="463.5,574.5 507.7,588.5 551.9,601.6 596.0,583.6"/><polyline points="463.5,574.5 507.7,591.7 551.9,601.6 596.0,581.7"/><polyline points="463.5,574.5 507.7,594.9 551.9,602.8 596.0,580.3"/><polyline points="463.5,574.5 507.7,590.8 551.9,599.4 596.0,580.5"/><polyline points="463.5,574.5 507.7,590.4 551.9,603.9 596.0,588.5"/><polyline points="463.5,574.5 507.7,600.2 551.9,599.3 596.0,588.9"/><polyline points="463.5,574.5 507.7,597.4 551.9,603.1 596.0,578.3"/><polyline points="463.5,574.5 507.7,602.6 551.9,608.2 596.0,585.5"/><polyline points="463.5,574.5 507.7,597.2 551.9,603.2 596.0,578.9"/><polyline points="463.5,574.5 507.7,591.7 551.9,591.2 596.0,575.7"/><polyline points="463.5,574.5 507.7,599.7 551.9,609.8 596.0,583.3"/><polyline points="463.5,574.5 507.7,595.5 551.9,598.4 596.0,579.6"/><polyline points="463.5,574.5 507.7,590.8 551.9,603.2 596.0,580.3"/><polyline points="463.5,574.5 507.7,592.6 551.9,604.1 596.0,579.8"/><polyline points="463.5,574.5 507.7,599.9 551.9,598.9 596.0,579.7"/><polyline points="463.5,574.5 507.7,582.4 551.9,603.5 596.0,588.5"/><polyline points="463.5,574.5 507.7,596.8 551.9,604.1 596.0,585.4"/><polyline points="463.5,574.5 507.7,599.3 551.9,605.0 596.0,588.0"/><polyline points="463.5,574.5 507.7,589.6 551.9,609.9 596.0,579.9"/><polyline points="463.5,574.5 507.7,590.2 551.9,601.3 596.0,576.6"/><polyline points="463.5,574.5 507.7,592.6 551.9,599.4 596.0,585.8"/><polyline points="463.5,574.5 507.7,599.3 551.9,605.6 596.0,581.6"/><polyline points="463.5,574.5 507.7,590.2 551.9,608.6 596.0,584.9"/><polyline points="463.5,574.5 507.7,597.5 551.9,599.8 596.0,584.6"/><polyline points="463.5,574.5 507.7,589.7 551.9,604.9 596.0,585.3"/><polyline points="463.5,574.5 507.7,597.2 551.9,610.9 596.0,591.2"/><polyline points="463.5,574.5 507.7,596.7 551.9,606.7 596.0,573.8"/><polyline points="463.5,574.5 507.7,592.6 551.9,599.4 596.0,581.7"/><polyline points="463.5,574.5 507.7,595.1 551.9,609.7 596.0,587.5"/><polyline points="463.5,574.5 507.7,588.5 551.9,605.4 596.0,584.2"/><polyline points="463.5,574.5 507.7,591.2 551.9,604.2 596.0,583.3"/><polyline points="463.5,574.5 507.7,586.0 551.9,601.6 596.0,583.8"/><polyline points="463.5,574.5 507.7,595.9 551.9,606.4 596.0,580.7"/><polyline points="463.5,574.5 507.7,591.9 551.9,605.8 596.0,583.2"/><polyline points="463.5,574.5 507.7,600.7 551.9,604.5 596.0,579.4"/><polyline points="463.5,574.5 507.7,598.2 551.9,603.7 596.0,585.1"/><polyline points="463.5,574.5 507.7,596.1 551.9,601.9 596.0,586.2"/><polyline points="463.5,574.5 507.7,589.6 551.9,597.5 596.0,577.4"/><polyline points="463.5,574.5 507.7,597.9 551.9,611.6 596.0,584.5"/><polyline points="463.5,574.5 507.7,593.7 551.9,603.4 596.0,582.9"/><polyline points="463.5,574.5 507.7,594.1 551.9,604.8 596.0,579.6"/><polyline points="463.5,574.5 507.7,600.0 551.9,601.6 596.0,580.2"/><polyline points="463.5,574.5 507.7,596.5 551.9,591.2 596.0,581.1"/><polyline points="463.5,574.5 507.7,593.1 551.9,608.5 596.0,581.2"/><polyline points="463.5,574.5 507.7,593.3 551.9,598.3 596.0,584.1"/><polyline points="463.5,574.5 507.7,589.7 551.9,609.0 596.0,582.1"/><polyline points="463.5,574.5 507.7,601.4 551.9,603.2 596.0,579.2"/><polyline points="463.5,574.5 507.7,600.4 551.9,600.2 596.0,580.3"/><polyline points="463.5,574.5 507.7,600.6 551.9,607.5 596.0,584.3"/><polyline points="463.5,574.5 507.7,592.1 551.9,597.1 596.0,584.9"/><polyline points="463.5,574.5 507.7,598.1 551.9,604.9 596.0,591.2"/><polyline points="463.5,574.5 507.7,592.4 551.9,603.9 596.0,583.4"/><polyline points="463.5,574.5 507.7,588.8 551.9,604.5 596.0,585.2"/><polyline points="463.5,574.5 507.7,590.1 551.9,605.2 596.0,582.0"/><polyline points="463.5,574.5 507.7,595.5 551.9,603.3 596.0,581.3"/><polyline points="463.5,574.5 507.7,592.9 551.9,608.2 596.0,576.9"/><polyline points="463.5,574.5 507.7,595.8 551.9,605.0 596.0,578.8"/><polyline points="463.5,574.5 507.7,596.0 551.9,601.1 596.0,577.7"/><polyline points="463.5,574.5 507.7,590.5 551.9,605.0 596.0,578.1"/><polyline points="463.5,574.5 507.7,595.0 551.9,606.5 596.0,585.4"/><polyline points="463.5,574.5 507.7,592.8 551.9,606.0 596.0,576.9"/><polyline points="463.5,574.5 507.7,590.9 551.9,600.6 596.0,577.6"/><polyline points="463.5,574.5 507.7,590.4 551.9,606.5 596.0,572.3"/><polyline points="463.5,574.5 507.7,600.0 551.9,602.5 596.0,589.5"/><polyline points="463.5,574.5 507.7,595.3 551.9,605.0 596.0,587.6"/><polyline points="463.5,574.5 507.7,592.0 551.9,602.7 596.0,582.1"/><polyline points="463.5,574.5 507.7,598.3 551.9,597.1 596.0,583.0"/><polyline points="463.5,574.5 507.7,591.2 551.9,609.6 596.0,576.5"/><polyline points="463.5,574.5 507.7,595.5 551.9,598.9 596.0,583.8"/><polyline points="463.5,574.5 507.7,594.4 551.9,601.1 596.0,582.3"/><polyline points="463.5,574.5 507.7,585.7 551.9,603.9 596.0,583.2"/><polyline points="463.5,574.5 507.7,589.8 551.9,602.3 596.0,585.8"/><polyline points="463.5,574.5 507.7,595.2 551.9,599.8 596.0,581.8"/><polyline points="463.5,574.5 507.7,589.6 551.9,608.0 596.0,580.8"/><polyline points="463.5,574.5 507.7,597.0 551.9,604.6 596.0,584.5"/><polyline points="463.5,574.5 507.7,597.3 551.9,592.9 596.0,581.4"/><polyline points="463.5,574.5 507.7,590.9 551.9,601.4 596.0,574.3"/><polyline points="463.5,574.5 507.7,596.2 551.9,608.5 596.0,579.5"/><polyline points="463.5,574.5 507.7,597.7 551.9,596.7 596.0,585.7"/><polyline points="463.5,574.5 507.7,595.1 551.9,600.1 596.0,586.4"/><polyline points="463.5,574.5 507.7,595.2 551.9,601.6 596.0,587.8"/><polyline points="463.5,574.5 507.7,594.4 551.9,609.0 596.0,582.7"/><polyline points="463.5,574.5 507.7,587.6 551.9,597.0 596.0,582.8"/><polyline points="463.5,574.5 507.7,594.9 551.9,606.2 596.0,578.9"/><polyline points="463.5,574.5 507.7,591.2 551.9,609.0 596.0,585.7"/><polyline points="463.5,574.5 507.7,599.1 551.9,602.3 596.0,581.1"/><polyline points="463.5,574.5 507.7,593.5 551.9,600.4 596.0,579.7"/><polyline points="463.5,574.5 507.7,594.1 551.9,600.7 596.0,584.1"/><polyline points="463.5,574.5 507.7,591.1 551.9,598.6 596.0,590.5"/><polyline points="463.5,574.5 507.7,587.6 551.9,603.4 596.0,579.2"/><polyline points="463.5,574.5 507.7,593.9 551.9,596.5 596.0,582.2"/><polyline points="463.5,574.5 507.7,592.5 551.9,605.4 596.0,582.1"/><polyline points="463.5,574.5 507.7,592.3 551.9,607.2 596.0,582.8"/><polyline points="463.5,574.5 507.7,596.3 551.9,602.7 596.0,578.3"/><polyline points="463.5,574.5 507.7,593.5 551.9,597.5 596.0,584.8"/><polyline points="463.5,574.5 507.7,595.5 551.9,603.8 596.0,585.7"/><polyline points="463.5,574.5 507.7,592.6 551.9,606.1 596.0,585.1"/><polyline points="463.5,574.5 507.7,593.1 551.9,606.4 596.0,582.2"/><polyline points="463.5,574.5 507.7,594.5 551.9,598.5 596.0,576.5"/><polyline points="463.5,574.5 507.7,592.1 551.9,606.1 596.0,578.9"/><polyline points="463.5,574.5 507.7,584.5 551.9,604.7 596.0,583.1"/><polyline points="463.5,574.5 507.7,589.0 551.9,603.5 596.0,583.6"/><polyline points="463.5,574.5 507.7,589.6 551.9,607.0 596.0,578.3"/><polyline points="463.5,574.5 507.7,597.5 551.9,601.0 596.0,582.6"/><polyline points="463.5,574.5 507.7,597.5 551.9,599.7 596.0,588.0"/><polyline points="463.5,574.5 507.7,592.0 551.9,604.0 596.0,578.1"/><polyline points="463.5,574.5 507.7,599.0 551.9,599.2 596.0,574.1"/><polyline points="463.5,574.5 507.7,596.7 551.9,603.2 596.0,578.4"/><polyline points="463.5,574.5 507.7,579.7 551.9,602.1 596.0,584.9"/><polyline points="463.5,574.5 507.7,593.3 551.9,603.9 596.0,584.0"/><polyline points="463.5,574.5 507.7,599.5 551.9,596.7 596.0,588.6"/><polyline points="463.5,574.5 507.7,595.0 551.9,611.4 596.0,591.2"/><polyline points="463.5,574.5 507.7,592.1 551.9,609.5 596.0,579.4"/><polyline points="463.5,574.5 507.7,594.1 551.9,607.6 596.0,579.5"/><polyline points="463.5,574.5 507.7,599.9 551.9,600.0 596.0,577.7"/><polyline points="463.5,574.5 507.7,599.5 551.9,602.6 596.0,576.1"/><polyline points="463.5,574.5 507.7,593.0 551.9,608.8 596.0,578.2"/><polyline points="463.5,574.5 507.7,594.1 551.9,602.3 596.0,587.7"/><polyline points="463.5,574.5 507.7,592.9 551.9,602.2 596.0,587.1"/><polyline points="463.5,574.5 507.7,592.4 551.9,604.9 596.0,579.3"/><polyline points="463.5,574.5 507.7,591.3 551.9,607.2 596.0,587.9"/><polyline points="463.5,574.5 507.7,589.2 551.9,600.8 596.0,585.0"/><polyline points="463.5,574.5 507.7,590.2 551.9,601.1 596.0,580.8"/><polyline points="463.5,574.5 507.7,596.5 551.9,606.1 596.0,577.5"/><polyline points="463.5,574.5 507.7,594.9 551.9,604.8 596.0,580.1"/><polyline points="463.5,574.5 507.7,598.9 551.9,604.0 596.0,582.6"/><polyline points="463.5,574.5 507.7,583.6 551.9,610.6 596.0,582.5"/><polyline points="463.5,574.5 507.7,597.2 551.9,610.6 596.0,574.0"/><polyline points="463.5,574.5 507.7,588.0 551.9,605.3 596.0,583.5"/><polyline points="463.5,574.5 507.7,595.3 551.9,604.0 596.0,583.8"/><polyline points="463.5,574.5 507.7,593.3 551.9,598.6 596.0,580.8"/><polyline points="463.5,574.5 507.7,590.6 551.9,609.3 596.0,575.8"/><polyline points="463.5,574.5 507.7,596.9 551.9,607.5 596.0,585.8"/><polyline points="463.5,574.5 507.7,592.1 551.9,603.7 596.0,587.1"/><polyline points="463.5,574.5 507.7,594.8 551.9,594.4 596.0,581.4"/><polyline points="463.5,574.5 507.7,595.7 551.9,606.7 596.0,580.9"/><polyline points="463.5,574.5 507.7,598.5 551.9,604.0 596.0,587.2"/><polyline points="463.5,574.5 507.7,591.1 551.9,607.1 596.0,576.4"/><polyline points="463.5,574.5 507.7,590.5 551.9,602.5 596.0,577.0"/><polyline points="463.5,574.5 507.7,588.3 551.9,606.0 596.0,575.2"/><polyline points="463.5,574.5 507.7,590.9 551.9,598.4 596.0,583.1"/><polyline points="463.5,574.5 507.7,594.3 551.9,598.3 596.0,583.4"/><polyline points="463.5,574.5 507.7,594.4 551.9,599.6 596.0,586.9"/><polyline points="463.5,574.5 507.7,600.1 551.9,598.5 596.0,578.3"/><polyline points="463.5,574.5 507.7,586.7 551.9,600.0 596.0,585.7"/><polyline points="463.5,574.5 507.7,590.8 551.9,600.1 596.0,578.2"/><polyline points="463.5,574.5 507.7,591.0 551.9,599.9 596.0,578.4"/><polyline points="463.5,574.5 507.7,597.1 551.9,601.1 596.0,586.5"/><polyline points="463.5,574.5 507.7,596.6 551.9,599.7 596.0,585.1"/><polyline points="463.5,574.5 507.7,599.9 551.9,606.3 596.0,579.6"/><polyline points="463.5,574.5 507.7,589.9 551.9,601.0 596.0,577.9"/><polyline points="463.5,574.5 507.7,602.8 551.9,603.7 596.0,578.8"/><polyline points="463.5,574.5 507.7,595.0 551.9,600.6 596.0,585.2"/><polyline points="463.5,574.5 507.7,594.2 551.9,597.3 596.0,585.3"/><polyline points="463.5,574.5 507.7,585.0 551.9,602.3 596.0,582.8"/><polyline points="463.5,574.5 507.7,585.8 551.9,604.0 596.0,578.4"/><polyline points="463.5,574.5 507.7,589.7 551.9,605.5 596.0,583.0"/><polyline points="463.5,574.5 507.7,594.3 551.9,603.7 596.0,584.8"/><polyline points="463.5,574.5 507.7,590.2 551.9,601.7 596.0,586.0"/><polyline points="463.5,574.5 507.7,595.2 551.9,598.4 596.0,586.1"/><polyline points="463.5,574.5 507.7,595.1 551.9,596.3 596.0,577.8"/><polyline points="463.5,574.5 507.7,593.5 551.9,600.5 596.0,580.1"/><polyline points="463.5,574.5 507.7,584.0 551.9,597.8 596.0,579.6"/><polyline points="463.5,574.5 507.7,596.7 551.9,604.5 596.0,581.6"/><polyline points="463.5,574.5 507.7,596.6 551.9,602.4 596.0,581.5"/><polyline points="463.5,574.5 507.7,594.8 551.9,604.4 596.0,586.5"/><polyline points="463.5,574.5 507.7,598.0 551.9,594.1 596.0,575.9"/></g>
<line x1="434.40" y1="574.50" x2="623.20" y2="574.50" stroke="#1a1a1a" stroke-width="1.1" />
<text x="428.50" y="578.80" font-size="12.3" text-anchor="end" fill="#111" >0</text>
<polyline points="463.5,574.5 507.7,597.8 551.9,604.3 596.0,582.2" fill="none" stroke="#4f55bb" stroke-width="1.3"/>
<line x1="437.40" y1="515.80" x2="437.40" y2="633.30" stroke="#4a4a4a" stroke-width="1.4" />
<line x1="436.70" y1="632.80" x2="623.20" y2="632.80" stroke="#1e1e1e" stroke-width="1.15" />
<line x1="434.40" y1="547.85" x2="437.40" y2="547.85" stroke="#1a1a1a" stroke-width="1" />
<text x="428.50" y="552.15" font-size="12.3" text-anchor="end" fill="#111" >4</text>
<line x1="434.40" y1="601.15" x2="437.40" y2="601.15" stroke="#1a1a1a" stroke-width="1" />
<text x="428.50" y="605.45" font-size="12.3" text-anchor="end" fill="#111" >–4</text>
<line x1="434.40" y1="627.80" x2="437.40" y2="627.80" stroke="#1a1a1a" stroke-width="1" />
<text x="428.50" y="632.10" font-size="12.3" text-anchor="end" fill="#111" >–8</text>
<line x1="434.40" y1="540.10" x2="437.40" y2="540.10" stroke="#1a1a1a" stroke-width="1" />
<text x="428.50" y="520.40" font-size="12.3" text-anchor="end" fill="#111" >8</text>
<line x1="463.50" y1="632.80" x2="463.50" y2="636.20" stroke="#1a1a1a" stroke-width="1.1" />
<text transform="translate(466.40,641.40) rotate(-90)" font-size="12.3" text-anchor="end" fill="#111">Naive</text>
<line x1="507.70" y1="632.80" x2="507.70" y2="636.20" stroke="#1a1a1a" stroke-width="1.1" />
<text transform="translate(510.60,641.40) rotate(-90)" font-size="12.3" text-anchor="end" fill="#111">D14</text>
<line x1="551.90" y1="632.80" x2="551.90" y2="636.20" stroke="#1a1a1a" stroke-width="1.1" />
<text transform="translate(554.80,641.40) rotate(-90)" font-size="12.3" text-anchor="end" fill="#111">D28</text>
<line x1="596.00" y1="632.80" x2="596.00" y2="636.20" stroke="#1a1a1a" stroke-width="1.1" />
<text transform="translate(598.90,641.40) rotate(-90)" font-size="12.3" text-anchor="end" fill="#111">Memory</text>
<text x="444.30" y="565.50" font-size="12.3" text-anchor="start" fill="#111" >Cluster 11</text>
<text x="604.80" y="592.90" font-size="12.3" text-anchor="start" fill="#3a3aa6" font-style="italic">CCR7</text>
<text transform="translate(405.5,576.30) rotate(-90)" font-size="12.3" text-anchor="middle" fill="#111">log<tspan font-size="9" dy="3.4">2</tspan><tspan dy="-3.4">(FC)</tspan></text>
<text x="-0.3" y="12.9" font-size="18.4" font-weight="bold" fill="#000" stroke="#000" stroke-width="0.3">a</text>
<text x="0.2" y="181.5" font-size="18.4" font-weight="bold" fill="#000" stroke="#000" stroke-width="0.3">b</text>
<text x="-0.3" y="406.3" font-size="18.4" font-weight="bold" fill="#000" stroke="#000" stroke-width="0.3">c</text>
<text x="395.0" y="13.0" font-size="18.4" font-weight="bold" fill="#000" stroke="#000" stroke-width="0.3">d</text></svg>
</body></html>
